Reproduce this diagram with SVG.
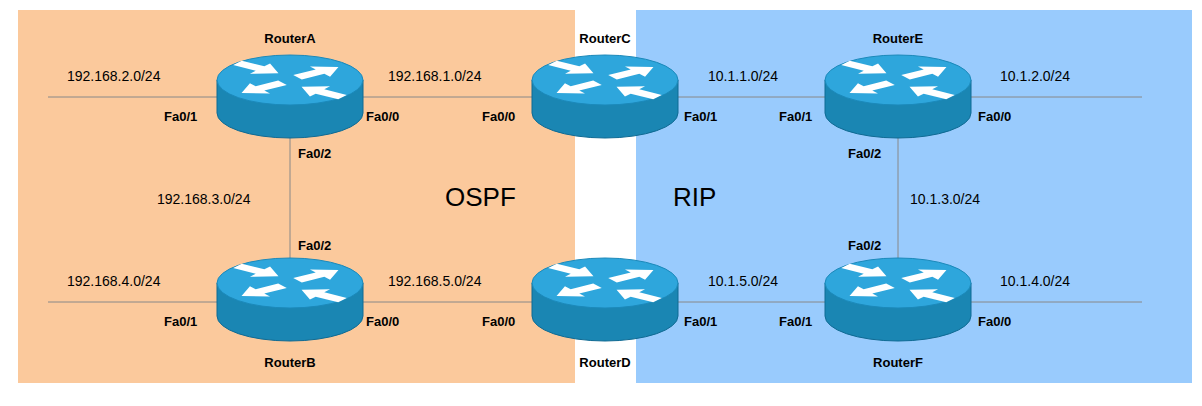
<svg xmlns="http://www.w3.org/2000/svg" xmlns:xlink="http://www.w3.org/1999/xlink" width="1202" height="406" viewBox="0 0 1202 406">
<style>
text{font-family:"Liberation Sans",Arial,sans-serif;fill:#000}
.b{font-weight:bold;font-size:13px}
.n{font-size:14px}
.big{font-size:26px}
.ln{stroke:#888;stroke-width:1;fill:none}
</style>
<defs>
<polygon id="arw" points="0,-6 22,-6 22,-14 40,0 22,14 22,6 0,6" fill="#fff"/>
<g id="rtr">
<path d="M-73,0 L-73,33 A73,25 0 0 0 73,33 L73,0 Z" fill="#1a86b3" stroke="#0f6a93" stroke-width="1"/>
<ellipse cx="0" cy="0" rx="73" ry="25" fill="#2ea6dc" stroke="#1b89ba" stroke-width="1"/>
<g transform="scale(1.25,0.45)">
<use xlink:href="#arw" transform="translate(-42,-38) rotate(35)"/>
<use xlink:href="#arw" transform="translate(6,-6) rotate(-35)"/>
<use xlink:href="#arw" transform="translate(-6,6) rotate(145)"/>
<use xlink:href="#arw" transform="translate(42,38) rotate(215)"/>
</g>
</g>
</defs>
<rect x="18" y="10" width="557" height="373" fill="#fbc99c"/>
<rect x="636" y="10" width="556" height="373" fill="#99cbfd"/>
<g id="connectors">
<line class="ln" x1="48" y1="97" x2="1142" y2="97"/>
<line class="ln" x1="48" y1="302" x2="1142" y2="302"/>
<line class="ln" x1="290" y1="138" x2="290" y2="258"/>
<line class="ln" x1="898" y1="138" x2="898" y2="258"/>
</g>
<g id="RouterA"><use xlink:href="#rtr" x="290" y="80"/><text class="b" x="290" y="43" text-anchor="middle">RouterA</text></g>
<g id="RouterC"><use xlink:href="#rtr" x="605" y="80"/><text class="b" x="605" y="43" text-anchor="middle">RouterC</text></g>
<g id="RouterE"><use xlink:href="#rtr" x="898" y="80"/><text class="b" x="898" y="43" text-anchor="middle">RouterE</text></g>
<g id="RouterB"><use xlink:href="#rtr" x="290" y="283"/><text class="b" x="290" y="367" text-anchor="middle">RouterB</text></g>
<g id="RouterD"><use xlink:href="#rtr" x="605" y="283"/><text class="b" x="605" y="367" text-anchor="middle">RouterD</text></g>
<g id="RouterF"><use xlink:href="#rtr" x="898" y="283"/><text class="b" x="898" y="367" text-anchor="middle">RouterF</text></g>
<g id="labels">
<text class="n" x="67" y="81">192.168.2.0/24</text>
<text class="n" x="388" y="81">192.168.1.0/24</text>
<text class="n" x="708" y="81">10.1.1.0/24</text>
<text class="n" x="1000" y="81">10.1.2.0/24</text>
<text class="n" x="157" y="204">192.168.3.0/24</text>
<text class="n" x="910" y="204">10.1.3.0/24</text>
<text class="n" x="67" y="286">192.168.4.0/24</text>
<text class="n" x="388" y="286">192.168.5.0/24</text>
<text class="n" x="708" y="286">10.1.5.0/24</text>
<text class="n" x="1000" y="286">10.1.4.0/24</text>
<text class="b" x="164" y="121">Fa0/1</text>
<text class="b" x="366" y="121">Fa0/0</text>
<text class="b" x="482" y="121">Fa0/0</text>
<text class="b" x="684" y="121">Fa0/1</text>
<text class="b" x="779" y="121">Fa0/1</text>
<text class="b" x="978" y="121">Fa0/0</text>
<text class="b" x="298" y="158">Fa0/2</text>
<text class="b" x="848" y="158">Fa0/2</text>
<text class="b" x="298" y="250">Fa0/2</text>
<text class="b" x="848" y="250">Fa0/2</text>
<text class="b" x="164" y="326">Fa0/1</text>
<text class="b" x="366" y="326">Fa0/0</text>
<text class="b" x="482" y="326">Fa0/0</text>
<text class="b" x="684" y="326">Fa0/1</text>
<text class="b" x="779" y="326">Fa0/1</text>
<text class="b" x="978" y="326">Fa0/0</text>
<text class="big" x="445" y="206">OSPF</text>
<text class="big" x="673" y="206">RIP</text>
</g>
</svg>
